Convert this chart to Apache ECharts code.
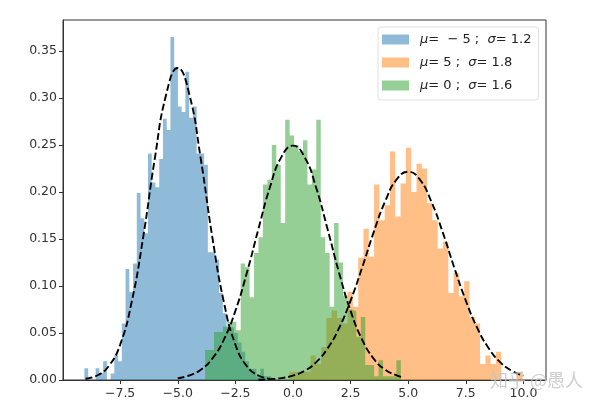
<!DOCTYPE html>
<html>
<head>
<meta charset="utf-8">
<script src="https://cdn.jsdelivr.net/npm/echarts@6/dist/echarts.min.js"></script>
<style>
  html, body { margin: 0; padding: 0; background: #fff; }
  #chart { width: 600px; height: 408px; }
</style>
</head>
<body>
<div id="chart"></div>
<script>
var xTicks = [-7.5, -5, -2.5, 0, 2.5, 5, 7.5, 10];
var yTicks = [0, 0.05, 0.1, 0.15, 0.2, 0.25, 0.3, 0.35];
var seriesNames = ['μ=  − 5 ;  σ= 1.2', 'μ= 5 ;  σ= 1.8', 'μ= 0 ;  σ= 1.6'];

// histogram bin heights (50 bins each)
var blueStart = -9.05, blueWidth = 0.1623;
var blueHist = [
  0.0125, 0, 0, 0.0125, 0.0075, 0.02, 0, 0.007, 0.026, 0.02,
  0.06, 0.118, 0.094, 0.124, 0.199, 0.172, 0.156, 0.241, 0.21, 0.205,
  0.235, 0.278, 0.266, 0.365, 0.333, 0.291, 0.285, 0.328, 0.279, 0.291,
  0.241, 0.241, 0.229, 0.136, 0.136, 0.128, 0.0925, 0.071, 0.056, 0.056,
  0.05, 0.04, 0.03, 0.02, 0.012, 0.012, 0.004, 0.012, 0.004, 0.004
];
var orangeStart = -1.54, orangeWidth = 0.23;
var orangeHist = [
  0, 0, 0, 0, 0, 0, 0.0087, 0.0087, 0.0087, 0.0087,
  0.026, 0.0174, 0.035, 0.066, 0.074, 0.066, 0.06, 0.094, 0.078, 0.13,
  0.161, 0.131, 0.208, 0.17, 0.186, 0.243, 0.174, 0.209, 0.247, 0.2,
  0.23, 0.225, 0.188, 0.17, 0.14, 0.147, 0.0925, 0.114, 0.089, 0.105,
  0.067, 0.06, 0.017, 0.026, 0.017, 0.03, 0, 0, 0, 0.0087
];
var greenStart = -4.97, greenWidth = 0.193;
var greenHist = [
  0, 0, 0, 0, 0, 0, 0.032, 0.032, 0.051, 0.051,
  0.057, 0.062, 0.062, 0.053, 0.124, 0.12, 0.088, 0.135, 0.152, 0.208,
  0.213, 0.25, 0.229, 0.167, 0.277, 0.26, 0.25, 0.243, 0.255, 0.208,
  0.224, 0.277, 0.152, 0.135, 0.078, 0.167, 0.125, 0.09, 0.075, 0.073,
  0.046, 0.067, 0.016, 0.016, 0.004, 0.021, 0.004, 0.004, 0.004, 0.021
];

// dashed curves, [x, y] samples
var blueCurve = [[-9, 0.0013], [-8.5, 0.0048], [-8, 0.0146], [-7.5, 0.0377], [-7, 0.083], [-6.5, 0.152], [-6, 0.235], [-5.5, 0.304], [-5, 0.332], [-4.5, 0.304], [-4, 0.235], [-3.5, 0.152], [-3, 0.083], [-2.5, 0.0377], [-2, 0.0146], [-1.5, 0.0048], [-1, 0.0013]];
var orangeCurve = [[-1.5, 0.0003], [-1, 0.0009], [-0.5, 0.002], [0, 0.0047], [0.5, 0.0097], [1, 0.0188], [1.5, 0.0335], [2, 0.0552], [2.5, 0.0845], [3, 0.1195], [3.5, 0.157], [4, 0.19], [4.5, 0.2134], [5, 0.2216], [5.5, 0.2134], [6, 0.19], [6.5, 0.157], [7, 0.1195], [7.5, 0.0845], [8, 0.0552], [8.5, 0.0335], [9, 0.0188], [9.5, 0.0097], [10, 0.0047]];
var greenCurve = [[-5, 0.0019], [-4.5, 0.0048], [-4, 0.0109], [-3.5, 0.0228], [-3, 0.043], [-2.5, 0.0735], [-2, 0.1141], [-1.5, 0.1606], [-1, 0.2051], [-0.5, 0.2374], [0, 0.2493], [0.5, 0.2374], [1, 0.2051], [1.5, 0.1606], [2, 0.1141], [2.5, 0.0735], [3, 0.043], [3.5, 0.0228], [4, 0.0109], [4.5, 0.0048], [4.75, 0.003]];

var font = 'DejaVu Sans';

function minus(v) {
  return String(v).replace('-', '−');
}

function steps(start, width, heights) {
  var data = heights.map(function (h, i) {
    return [start + i * width, h];
  });
  data.push([start + heights.length * width, 0]);
  return data;
}

function histSeries(name, start, width, heights, color) {
  return {
    name: name,
    type: 'line',
    step: 'end',
    showSymbol: false,
    silent: true,
    z: 2,
    data: steps(start, width, heights),
    itemStyle: { color: color },
    lineStyle: { width: 0 },
    areaStyle: { color: color, opacity: 1 }
  };
}

function curveSeries(data) {
  return {
    type: 'line',
    smooth: true,
    showSymbol: false,
    silent: true,
    z: 5,
    data: data,
    lineStyle: { color: '#000', width: 1.9, type: [7, 3] }
  };
}

var blue = 'rgba(31,119,180,0.5)';
var orange = 'rgba(255,127,14,0.5)';
var green = 'rgba(44,160,44,0.5)';

var chart = echarts.init(document.getElementById('chart'), null, { renderer: 'canvas' });

chart.setOption({
  animation: false,
  backgroundColor: '#fff',
  grid: {
    left: 63, right: 54, top: 20, bottom: 28,
    show: true,
    borderColor: '#333',
    borderWidth: 1
  },
  legend: {
    left: 378,
    top: 27,
    orient: 'vertical',
    padding: [5, 7, 7, 4],
    itemWidth: 27,
    itemHeight: 10,
    itemGap: 8,
    borderColor: '#e0e0e0',
    borderWidth: 1,
    borderRadius: 3,
    backgroundColor: 'rgba(255,255,255,0.8)',
    data: [
      { name: seriesNames[0], icon: 'rect', itemStyle: { color: blue } },
      { name: seriesNames[1], icon: 'rect', itemStyle: { color: orange } },
      { name: seriesNames[2], icon: 'rect', itemStyle: { color: green } }
    ],
    formatter: function (name) {
      return '{s|}' + name.replace(/([μσ])/g, '{i|$1}');
    },
    textStyle: {
      fontFamily: font,
      fontSize: 13,
      lineHeight: 15,
      color: '#222',
      rich: {
        s: { width: 6 },
        i: { fontFamily: font, fontStyle: 'italic', fontSize: 13, color: '#222' }
      }
    }
  },
  xAxis: {
    type: 'value',
    min: -9.98,
    max: 10.98,
    splitLine: { show: false },
    axisLine: { onZero: false, lineStyle: { color: '#333', width: 1 } },
    axisTick: { inside: false, length: 4, customValues: xTicks, lineStyle: { color: '#333' } },
    axisLabel: {
      customValues: xTicks,
      color: '#333',
      fontFamily: font,
      fontSize: 12.5,
      margin: 7,
      formatter: function (v) { return minus(v.toFixed(1)); }
    }
  },
  yAxis: {
    type: 'value',
    min: 0,
    max: 0.383,
    splitLine: { show: false },
    axisLine: { show: true, onZero: false, lineStyle: { color: '#333', width: 1 } },
    axisTick: { show: true, inside: false, length: 4, customValues: yTicks, lineStyle: { color: '#333' } },
    axisLabel: {
      customValues: yTicks,
      color: '#333',
      fontFamily: font,
      fontSize: 12.5,
      margin: 6,
      formatter: function (v) { return v.toFixed(2); }
    }
  },
  series: [
    histSeries(seriesNames[0], blueStart, blueWidth, blueHist, blue),
    histSeries(seriesNames[1], orangeStart, orangeWidth, orangeHist, orange),
    histSeries(seriesNames[2], greenStart, greenWidth, greenHist, green),
    curveSeries(blueCurve),
    curveSeries(orangeCurve),
    curveSeries(greenCurve)
  ],
  graphic: [{
    type: 'text',
    left: 490,
    top: 371,
    z: 20,
    style: {
      text: '知乎 @愚人',
      fontFamily: 'Noto Sans CJK SC',
      fontSize: 18,
      fill: 'rgba(195,195,195,0.8)'
    }
  }]
});
</script>
</body>
</html>
